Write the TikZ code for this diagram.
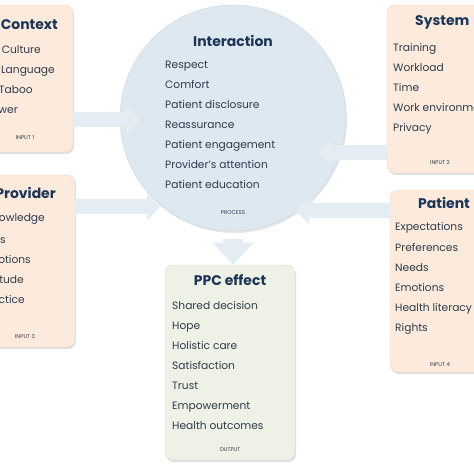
\documentclass[tikz,border=0pt]{standalone}
\usepackage{fontspec}
\setmainfont{Poppins}
\usetikzlibrary{shadows,arrows.meta}

\definecolor{peach}{HTML}{FCEADD}
\definecolor{peachline}{HTML}{F1D9C8}
\definecolor{mist}{HTML}{DDE8F0}
\definecolor{mistline}{HTML}{C9D8E2}
\definecolor{sage}{HTML}{EEF1E5}
\definecolor{sageline}{HTML}{DADFCF}
\definecolor{navy}{HTML}{1D3557}
\definecolor{ink}{HTML}{2F3B4C}
\definecolor{flowblue}{HTML}{E3EDF3}

\tikzset{
  inbox/.style={draw=peachline, fill=peach, rounded corners=8bp,
    drop shadow={opacity=0.25, shadow xshift=1bp, shadow yshift=-2bp}},
  outbox/.style={draw=sageline, fill=sage, rounded corners=8bp,
    drop shadow={opacity=0.25, shadow xshift=1bp, shadow yshift=-2bp}},
  hub/.style={circle, draw=mistline, fill=mist,
    drop shadow={opacity=0.2, shadow xshift=1bp, shadow yshift=-2bp}},
  title/.style={font=\bfseries\fontsize{14}{16}\selectfont, text=navy, inner sep=0pt},
  item/.style={font=\fontsize{10.7}{12}\selectfont, text=ink, inner sep=0pt},
  tag/.style={font=\fontsize{5.5}{6}\selectfont, text=ink, inner sep=0pt},
  flow/.style={line width=15bp, draw=flowblue, -{Triangle[width=26bp,length=13bp]}},
  outflow/.style={line width=20bp, draw=flowblue, -{Triangle[width=40bp,length=22bp]}}
}

\begin{document}
\begin{tikzpicture}[x=1bp,y=-1bp]
  \useasboundingbox (0,0) rectangle (474,474);
  \clip (0,0) rectangle (474,474);

  % the process circle
  \node[hub, minimum size=226bp] (circ) at (233,118) {};

  % input boxes
  \node[inbox, minimum width=163bp, minimum height=147bp] (ctx)  at (-8.5,78.5) {};
  \node[inbox, minimum width=165bp, minimum height=172bp] (prov) at (-7.5,261) {};
  \node[inbox, minimum width=173bp, minimum height=168bp] (sys)  at (473.5,89) {};
  \node[inbox, minimum width=170bp, minimum height=182bp] (pat)  at (475,281) {};

  % output box
  \node[outbox, minimum width=130bp, minimum height=195bp] (ppc) at (230,362.5) {};

  % flows into and out of the circle
  \coordinate (ctxin)  at (140,120);
  \coordinate (provin) at (160,207);
  \coordinate (sysin)  at (318,153);
  \coordinate (patin)  at (296,211);
  \draw[flow] (ctx.east |- ctxin) -- (ctxin);
  \draw[flow] (prov.east |- provin) -- (provin);
  \draw[flow] (sys.west |- sysin) -- (sysin);
  \draw[flow] (pat.west |- patin) -- (patin);
  \draw[outflow] ([yshift=-8bp]circ.south) -- (circ.south |- ppc.north);

  % titles
  \node[title, anchor=east] (ctxtitle)  at (58,25)  {Context};
  \node[title, anchor=east] (provtitle) at (56,193) {Provider};
  \node[title, anchor=west] (systitle)  at (415,22) {System};
  \node[title, anchor=west] (pattitle)  at (418,203) {Patient};
  \node[title] (circtitle) at (233,41)  {Interaction};
  \node[title] (ppctitle)  at (230,280) {PPC effect};

  % items (baselines)
  \foreach \t/\x/\y [count=\i] in {Culture/41/54, Language/55/74, Taboo/33/94, Power/18/114}
    \node[item, anchor=base east] (ctx-\i) at (\x,\y) {\t};
  \foreach \t/\x/\y [count=\i] in {Knowledge/45/222, Skills/6/243, Emotions/31/263,
      Attitude/24/283, Practice/25/303}
    \node[item, anchor=base east] (prov-\i) at (\x,\y) {\t};
  \foreach \t [count=\i] in {Training, Workload, Time, Work environment, Privacy}
    \node[item, anchor=base west] (sys-\i) at (393,32+20*\i) {\t};
  \foreach \t [count=\i] in {Expectations, Preferences, Needs, Emotions,
      Health literacy, Rights}
    \node[item, anchor=base west] (pat-\i) at (395,211+20*\i) {\t};
  \foreach \t [count=\i] in {Respect, Comfort, Patient disclosure, Reassurance,
      Patient engagement, Provider's attention, Patient education}
    \node[item, anchor=base west] (circ-\i) at (165,49+20*\i) {\t};
  \foreach \t [count=\i] in {Shared decision, Hope, Holistic care, Satisfaction,
      Trust, Empowerment, Health outcomes}
    \node[item, anchor=base west] (ppc-\i) at (172,289+20*\i) {\t};

  % stage tags
  \node[tag] (ctxtag)  at (25,138)  {INPUT 1};
  \node[tag] (systag)  at (440,163) {INPUT 2};
  \node[tag] (provtag) at (25,336)  {INPUT 3};
  \node[tag] (pattag)  at (440,365) {INPUT 4};
  \node[tag] (circtag) at (233,213) {PROCESS};
  \node[tag] (ppctag)  at (230,450) {OUTPUT};
\end{tikzpicture}
\end{document}
